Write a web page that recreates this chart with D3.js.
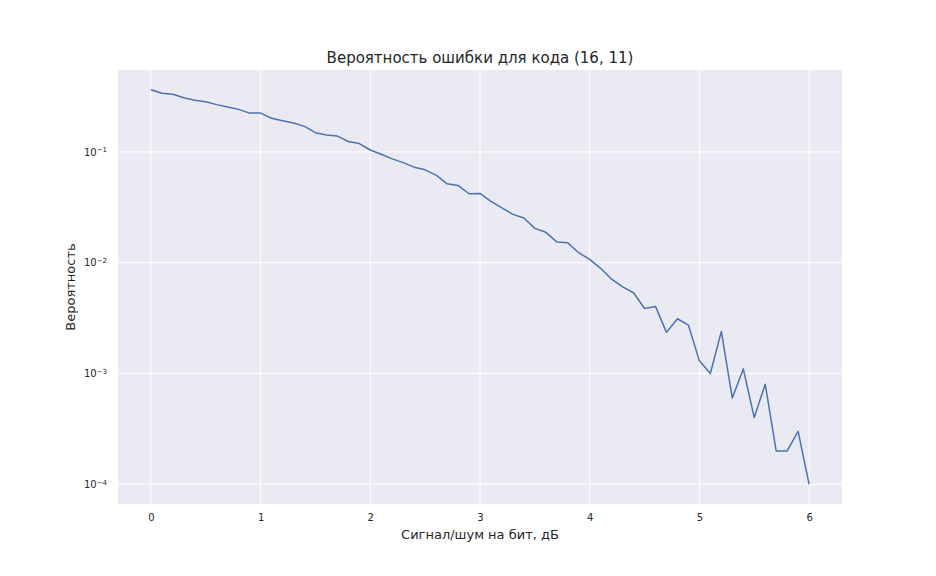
<!DOCTYPE html>
<html>
<head>
<meta charset="utf-8">
<script src="https://cdn.jsdelivr.net/npm/d3@7"></script>
<style>
  body { margin: 0; background: #fff; }
  svg { display: block; font-family: "DejaVu Sans", sans-serif; }
</style>
</head>
<body>
<div id="chart"></div>
<script>
// Eb/N0 in dB, step 0.1
var snr = d3.range(0, 61).map(function (i) { return i / 10; });

// error probability
var errorProb = [
  0.364, 0.338, 0.331, 0.308, 0.292, 0.284, 0.267, 0.254, 0.242, 0.224,
  0.224, 0.201, 0.191, 0.182, 0.170, 0.149, 0.142, 0.139, 0.124, 0.119,
  0.104, 0.0953, 0.0865, 0.080, 0.0728, 0.0689, 0.0617, 0.0515, 0.0498, 0.0419,
  0.0422, 0.0357, 0.0313, 0.0273, 0.0253, 0.0204, 0.0188, 0.0154, 0.0151, 0.0123,
  0.0107, 0.0089, 0.0071, 0.00605, 0.00535, 0.00386, 0.00403, 0.00235, 0.00312, 0.00273,
  0.0013, 0.001, 0.0024, 0.0006, 0.0011, 0.0004, 0.0008, 0.0002, 0.0002, 0.0003,
  0.0001
];

var xTicks = [0, 1, 2, 3, 4, 5, 6];
var yTicks = [1e-4, 1e-3, 1e-2, 1e-1];

var title = 'Вероятность ошибки для кода (16, 11)';
var xLabel = 'Сигнал/шум на бит, дБ';
var yLabel = 'Вероятность';

var W = 936, H = 576;
var margin = {top: 70, right: 94, bottom: 72, left: 118};
var width = W - margin.left - margin.right;
var height = H - margin.top - margin.bottom;

var svg = d3.select('#chart').append('svg')
    .attr('width', W)
    .attr('height', H);

var g = svg.append('g')
    .attr('transform', 'translate(' + margin.left + ',' + margin.top + ')');

var x = d3.scaleLinear().domain([-0.3, 6.3]).range([0, width]);

// matplotlib-style 5% margin in log space
var lo = Math.log10(d3.min(errorProb)), hi = Math.log10(d3.max(errorProb));
var pad = (hi - lo) * 0.05;
var y = d3.scaleLog()
    .domain([Math.pow(10, lo - pad), Math.pow(10, hi + pad)])
    .range([height, 0]);

// background
g.append('rect')
  .attr('width', width)
  .attr('height', height)
  .attr('fill', '#eaeaf2');

// grid
g.append('g').selectAll('line')
  .data(xTicks)
  .enter().append('line')
  .attr('x1', function (d) { return x(d); })
  .attr('x2', function (d) { return x(d); })
  .attr('y1', 0).attr('y2', height)
  .attr('stroke', '#fff').attr('stroke-width', 1);

g.append('g').selectAll('line')
  .data(yTicks)
  .enter().append('line')
  .attr('y1', function (d) { return y(d); })
  .attr('y2', function (d) { return y(d); })
  .attr('x1', 0).attr('x2', width)
  .attr('stroke', '#fff').attr('stroke-width', 1);

// axes without tick marks
var xAxis = d3.axisBottom(x).tickValues(xTicks).tickSize(0).tickPadding(10)
    .tickFormat(d3.format('d'));
g.append('g')
  .attr('transform', 'translate(0,' + height + ')')
  .call(xAxis)
  .call(function (s) { s.select('.domain').remove(); })
  .selectAll('text')
  .attr('fill', '#262626')
  .style('font-size', '10px')
  .style('font-family', '"DejaVu Sans", sans-serif');

var yAxis = d3.axisLeft(y).tickValues(yTicks).tickSize(0).tickPadding(11)
    .tickFormat('');
var yAx = g.append('g').call(yAxis);
yAx.select('.domain').remove();
yAx.selectAll('.tick text')
  .attr('fill', '#262626')
  .style('font-size', '10px')
  .style('font-family', '"DejaVu Sans", sans-serif')
  .each(function (d) {
    var t = d3.select(this);
    t.append('tspan').text('10');
    t.append('tspan')
      .attr('dy', '-0.45em')
      .style('font-size', '7px')
      .text('\u2212' + Math.round(-Math.log10(d)));
  });

// line
var line = d3.line()
    .x(function (d, i) { return x(snr[i]); })
    .y(function (d) { return y(d); });

g.append('path')
  .datum(errorProb)
  .attr('d', line)
  .attr('fill', 'none')
  .attr('stroke', '#4c72b0')
  .attr('stroke-width', 1.5)
  .attr('stroke-linejoin', 'round');

// labels
svg.append('text')
  .attr('x', margin.left + width / 2)
  .attr('y', margin.top - 7)
  .attr('text-anchor', 'middle')
  .attr('fill', '#262626')
  .style('font-size', '15px')
  .text(title);

svg.append('text')
  .attr('x', margin.left + width / 2)
  .attr('y', margin.top + height + 35)
  .attr('text-anchor', 'middle')
  .attr('fill', '#262626')
  .style('font-size', '13px')
  .text(xLabel);

svg.append('text')
  .attr('transform', 'translate(' + 75 + ',' + (margin.top + height / 2) + ') rotate(-90)')
  .attr('text-anchor', 'middle')
  .attr('fill', '#262626')
  .style('font-size', '13px')
  .text(yLabel);
</script>
</body>
</html>
